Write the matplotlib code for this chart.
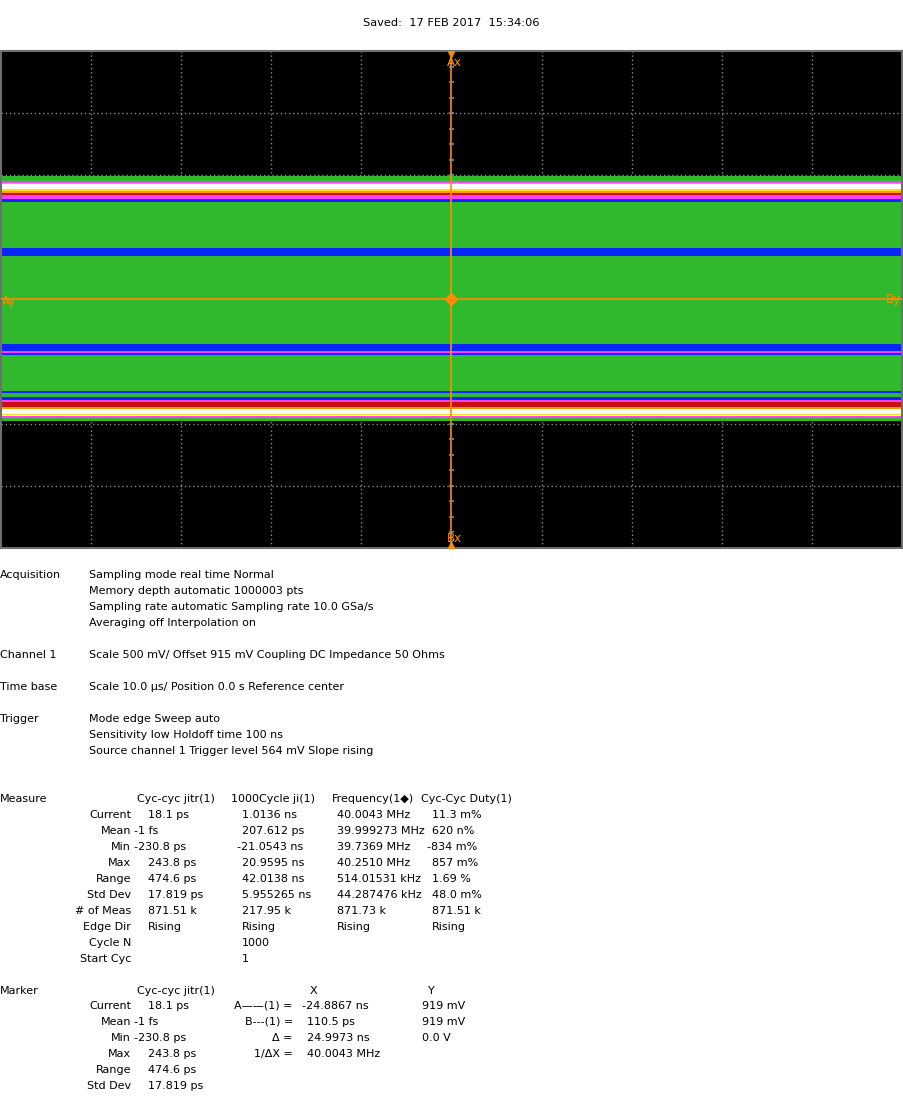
import matplotlib
matplotlib.use("Agg")
import matplotlib.pyplot as plt
import matplotlib.transforms as mtransforms
import numpy as np

# scope settings (10 us/div, 500 mV/div, offset 915 mV)
time_per_div = 10.0
volt_per_div = 0.5
offset = 0.915

# persistence bands, top edge / bottom edge in volts and colour
band_top = [1.907, 1.867, 1.853, 1.842, 1.802, 1.786, 1.772, 1.754, 1.721,
            1.700, 1.332, 1.262, 0.556, 0.544, 0.498, 0.482, 0.469,
            0.175, 0.165, 0.127, 0.109, 0.087, 0.052, 0.030, -0.007,
            -0.018, -0.026, -0.039]
band_bot = [1.867, 1.853, 1.842, 1.802, 1.786, 1.772, 1.754, 1.721, 1.700,
            1.332, 1.262, 0.556, 0.544, 0.498, 0.482, 0.469, 0.175,
            0.165, 0.127, 0.109, 0.087, 0.052, 0.030, -0.007, -0.018,
            -0.026, -0.039, -0.064]
band_col = ["green", "magenta", "amber", "white", "yellow", "orange", "red",
            "magenta", "blue", "green", "blue", "green", "blue", "blue",
            "magenta", "blue", "green", "blue", "green", "blue", "magenta",
            "red", "orange", "white", "yellow", "white", "magenta", "green"]

palette = {"green": "#31b92e", "blue": "#0a26ff", "magenta": "#ff3cff",
           "red": "#c81010", "orange": "#ff9a00", "amber": "#ffc020",
           "yellow": "#ffe000", "white": "#ffffff"}

# cursors
cursor_x = -0.0248867   # us (A = -24.8867 ns)
cursor_y = 0.919        # V

saved_text = "Saved:  17 FEB 2017  15:34:06"

setup_names = ["Acquisition", "Channel 1", "Time base", "Trigger"]
setup_rows = [575, 655, 687, 719]
setup_lines = [
    ["Sampling mode real time Normal",
     "Memory depth automatic 1000003 pts",
     "Sampling rate automatic Sampling rate 10.0 GSa/s",
     "Averaging off Interpolation on"],
    ["Scale 500 mV/ Offset 915 mV Coupling DC Impedance 50 Ohms"],
    ["Scale 10.0 \u00b5s/ Position 0.0 s Reference center"],
    ["Mode edge Sweep auto",
     "Sensitivity low Holdoff time 100 ns",
     "Source channel 1 Trigger level 564 mV Slope rising"],
]

meas_heads = ["Cyc-cyc jitr(1)", "1000Cycle ji(1)", "Frequency(1\u25c6)", "Cyc-Cyc Duty(1)"]
meas_rows = ["Current", "Mean", "Min", "Max", "Range", "Std Dev",
             "# of Meas", "Edge Dir", "Cycle N", "Start Cyc"]
jitter = ["18.1 ps", "-1 fs", "-230.8 ps", "243.8 ps", "474.6 ps", "17.819 ps",
          "871.51 k", "Rising", "", ""]
cycle_jitter = ["1.0136 ns", "207.612 ps", "-21.0543 ns", "20.9595 ns", "42.0138 ns",
                "5.955265 ns", "217.95 k", "Rising", "1000", "1"]
frequency = ["40.0043 MHz", "39.999273 MHz", "39.7369 MHz", "40.2510 MHz",
             "514.01531 kHz", "44.287476 kHz", "871.73 k", "Rising", "", ""]
duty = ["11.3 m%", "620 n%", "-834 m%", "857 m%", "1.69 %", "48.0 m%",
        "871.51 k", "Rising", "", ""]

marker_rows = ["Current", "Mean", "Min", "Max", "Range", "Std Dev"]
marker_x_labels = ["A\u2014\u2014(1) =", "B---(1) =", "\u0394 =", "1/\u0394X ="]
marker_x_vals = ["-24.8867 ns", "110.5 ps", "24.9973 ns", "40.0043 MHz"]
marker_y_vals = ["919 mV", "919 mV", "0.0 V"]

W, H = 904, 1096
fig = plt.figure(figsize=(W / 100, H / 100), dpi=100)
fig.patch.set_facecolor("white")
plt.rcParams["font.family"] = ["DejaVu Sans"]
FS = 8.0


def put(x, y, s, **kw):
    kw.setdefault("fontsize", FS)
    kw.setdefault("va", "center")
    fig.text(x / W, 1 - y / H, s, color=kw.pop("color", "black"), **kw)


# --- scope screen ---
ax = fig.add_axes([1 / W, 1 - 548 / H, 901 / W, 497 / H])
ax.set_facecolor("black")
ax.set_xlim(-5 * time_per_div, 5 * time_per_div)
ax.set_ylim(offset - 4 * volt_per_div, offset + 4 * volt_per_div)
ax.set_xticks([])
ax.set_yticks([])
for sp in ax.spines.values():
    sp.set_color("#6e6e6e")
    sp.set_linewidth(1.5)

for k in range(-4, 5):
    if k != 0:
        ax.axvline(k * time_per_div, color="#8a8a8a", lw=1, ls=(0, (1, 2)), zorder=1)
for k in range(-3, 4):
    if k != 0:
        ax.axhline(offset + k * volt_per_div, color="#8a8a8a", lw=1, ls=(0, (1, 2)), zorder=1)

for top, bot, c in zip(band_top, band_bot, band_col):
    ax.axhspan(bot, top, color=palette[c], lw=0, zorder=2)

orange = "#ff8c00"
ax.axvline(cursor_x, color=orange, lw=1.2, zorder=3)
ax.axhline(cursor_y, color=orange, lw=1.2, zorder=3)
ax.plot(cursor_x, cursor_y, marker="D", ms=6, color=orange, mec=orange, zorder=4)

# graticule minor ticks on the centre axis (only seen where no trace covers them)
minor_y = offset + np.arange(-15, 16) * volt_per_div / 4
minor_y = minor_y[(minor_y > max(band_top)) | (minor_y < min(band_bot))]
ax.hlines(minor_y, -0.3, 0.3, color="#8a8a8a", lw=1.2, zorder=3.5)

y0, y1 = ax.get_ylim()
down = mtransforms.offset_copy(ax.transData, fig=fig, x=0, y=-2.5, units="points")
up = mtransforms.offset_copy(ax.transData, fig=fig, x=0, y=2.5, units="points")
ax.plot(cursor_x, y1, marker="v", ms=5, color=orange, transform=down, zorder=5)
ax.plot(cursor_x, y0, marker="^", ms=5, color=orange, transform=up, zorder=5)

ax.annotate("Ax", (cursor_x, y1), xytext=(-3, -8.5), textcoords="offset points",
            color=orange, fontsize=8.5, ha="left", va="center", zorder=5)
ax.annotate("Bx", (cursor_x, y0), xytext=(-3, 7), textcoords="offset points",
            color=orange, fontsize=8.5, ha="left", va="center", zorder=5)
ax.annotate("Ay", (ax.get_xlim()[0], cursor_y), xytext=(1, -1.5), textcoords="offset points",
            color=orange, fontsize=8.5, ha="left", va="center", zorder=5)
ax.annotate("By", (ax.get_xlim()[1], cursor_y), xytext=(-1, -0.5), textcoords="offset points",
            color=orange, fontsize=8.5, ha="right", va="center", zorder=5)

# --- header ---
put(451, 23, saved_text, ha="center", fontsize=8.2)

# --- setup text ---
for name, yy, lines in zip(setup_names, setup_rows, setup_lines):
    put(0, yy, name)
    for i, s in enumerate(lines):
        put(89, yy + 16 * i, s)

# --- measurements ---
put(0, 799, "Measure")
for x, s in zip([137, 231, 332, 421], meas_heads):
    put(x, 799, s)
cols = [jitter, cycle_jitter, frequency, duty]
col_x = [148, 242, 337, 432]
neg_x = [134, 237, 332, 427]
for i, lab in enumerate(meas_rows):
    y = 815 + 16 * i
    put(131, y, lab, ha="right")
    for c, vals in enumerate(cols):
        s = vals[i]
        if s:
            put(neg_x[c] if s.startswith("-") else col_x[c], y, s)

# --- markers ---
put(0, 991, "Marker")
put(137, 991, "Cyc-cyc jitr(1)")
put(310, 991, "X")
put(428, 991, "Y")
for i, lab in enumerate(marker_rows):
    y = 1006 + 16 * i
    put(131, y, lab, ha="right")
    s = jitter[i]
    put(134 if s.startswith("-") else 148, y, s)
for i, (lab, val) in enumerate(zip(marker_x_labels, marker_x_vals)):
    y = 1006 + 16 * i
    put(293, y, lab, ha="right")
    put(302 if val.startswith("-") else 307, y, val)
for i, val in enumerate(marker_y_vals):
    put(422, 1006 + 16 * i, val)

fig.savefig("out.png", dpi=100)
